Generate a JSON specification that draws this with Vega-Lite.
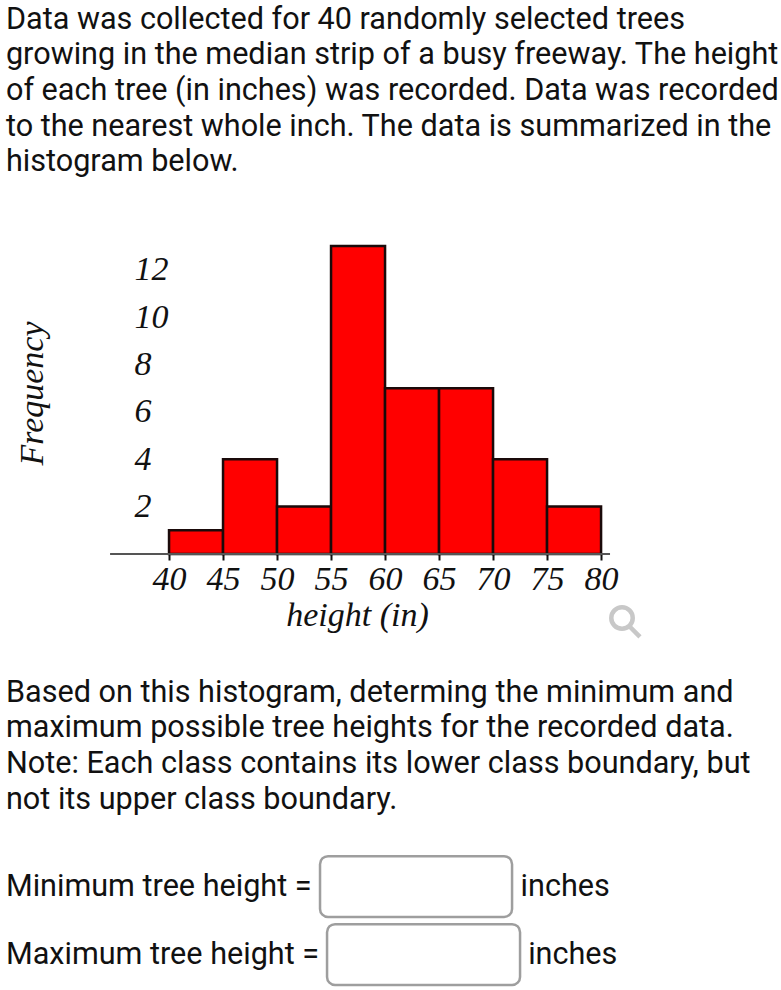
{
"$schema":"https://vega.github.io/schema/vega-lite/v6.json",
"width":781,"height":990,"padding":0,
"autosize":{"type":"fit","contains":"padding"},
"background":"white",
"config":{"view":{"stroke":null}},
"datasets":{
"bins":[
{"lo":40,"hi":45,"base":0,"freq":1},{"lo":45,"hi":50,"base":0,"freq":4},{"lo":50,"hi":55,"base":0,"freq":2},{"lo":55,"hi":60,"base":0,"freq":13},
{"lo":60,"hi":65,"base":0,"freq":7},{"lo":65,"hi":70,"base":0,"freq":7},{"lo":70,"hi":75,"base":0,"freq":4},{"lo":75,"hi":80,"base":0,"freq":2}],
"text":[
{"col":24.9,"line":1,"t":"Data was collected for 40 randomly selected trees"},
{"col":24.9,"line":2,"t":"growing in the median strip of a busy freeway. The height"},
{"col":24.9,"line":3,"t":"of each tree (in inches) was recorded. Data was recorded"},
{"col":24.9,"line":4,"t":"to the nearest whole inch. The data is summarized in the"},
{"col":24.9,"line":5,"t":"histogram below."},
{"col":24.9,"line":19.9,"t":"Based on this histogram, determing the minimum and"},
{"col":24.9,"line":20.9,"t":"maximum possible tree heights for the recorded data."},
{"col":24.9,"line":21.9,"t":"Note: Each class contains its lower class boundary, but"},
{"col":24.9,"line":22.9,"t":"not its upper class boundary."},
{"col":24.9,"line":25.36,"t":"Minimum tree height ="},
{"col":72.55,"line":25.36,"t":"inches"},
{"col":24.9,"line":27.27,"t":"Maximum tree height ="},
{"col":73.25,"line":27.27,"t":"inches"}],
"boxes":[
{"a":53.98,"b":71.76,"top":24.49,"bottom":26.2},
{"a":54.63,"b":72.5,"top":26.4,"bottom":28.11}]
},
"layer":[
{"layer":[
{"data":{"name":"bins"},"mark":{"type":"rect","fill":"#ff0000","stroke":"#1a0a0a","strokeWidth":2.5},
"encoding":{
"x":{"field":"lo","type":"quantitative","scale":{"domain":[24.35,96.66],"nice":false,"zero":false},
"axis":{"values":[40,45,50,55,60,65,70,75,80],"orient":"bottom","offset":-437,"domain":false,"grid":false,"ticks":true,"tickSize":7,"tickColor":"#111","tickWidth":2,"labelFont":"Liberation Serif","labelFontStyle":"italic","labelFontSize":34,"labelColor":"#111","labelPadding":2,"title":"height (in)","titleFont":"Liberation Serif","titleFontStyle":"italic","titleFontWeight":"normal","titleFontSize":34,"titleColor":"#111","titleX":357,"titleY":45,"titleAnchor":"middle","titleAlign":"center","labelOverlap":false}},
"x2":{"field":"hi"},
"y":{"field":"base","type":"quantitative","scale":{"domain":[-18.4,23.38],"nice":false,"zero":false},
"axis":{"values":[2,4,6,8,10,12],"orient":"left","offset":-134,"domain":false,"grid":false,"ticks":false,"labelAlign":"left","labelBaseline":"middle","labelPadding":0,"labelFont":"Liberation Serif","labelFontStyle":"italic","labelFontSize":34,"labelColor":"#111","title":"Frequency","titleFont":"Liberation Serif","titleFontStyle":"italic","titleFontWeight":"normal","titleFontSize":34,"titleColor":"#111","titleX":-102,"titleY":393,"titleAngle":-90,"titleAlign":"center","titleBaseline":"middle","labelOverlap":false}},
"y2":{"field":"freq"}}},
{"data":{"values":[{"from":34.54,"to":80.83,"level":0}]},"mark":{"type":"rule","color":"#555","strokeWidth":2},
"encoding":{"x":{"field":"from","type":"quantitative"},"x2":{"field":"to"},"y":{"field":"level","type":"quantitative"}}},
{"data":{"values":[{"cx":81.94,"cy":-2.70}]},"mark":{"type":"point","shape":"circle","size":460,"filled":false,"stroke":"#c8c8c8","strokeWidth":4.5,"opacity":1},
"encoding":{"x":{"field":"cx","type":"quantitative"},"y":{"field":"cy","type":"quantitative"}}},
{"data":{"values":[{"hx1":82.69,"hx2":83.6,"hy1":-3.08,"hy2":-3.5}]},"mark":{"type":"rule","color":"#c8c8c8","strokeWidth":4.5},
"encoding":{"x":{"field":"hx1","type":"quantitative"},"x2":{"field":"hx2"},"y":{"field":"hy1","type":"quantitative"},"y2":{"field":"hy2"}}}
]},
{"layer":[
{"data":{"name":"text"},"mark":{"type":"text","font":"Roboto","fontSize":30.6,"align":"left","baseline":"middle","color":"#111"},
"encoding":{"x":{"field":"col","type":"quantitative"},"y":{"field":"line","type":"quantitative","scale":{"domain":[28.25,0.444],"nice":false,"zero":false},"axis":null},"text":{"field":"t"}}},
{"data":{"name":"boxes"},"mark":{"type":"rect","fill":"white","stroke":"#9e9e9e","strokeWidth":2.5,"cornerRadius":8},
"encoding":{"x":{"field":"a","type":"quantitative"},"x2":{"field":"b"},"y":{"field":"top","type":"quantitative"},"y2":{"field":"bottom"}}}
]}
],
"resolve":{"scale":{"y":"independent"},"axis":{"y":"independent"}}
}
